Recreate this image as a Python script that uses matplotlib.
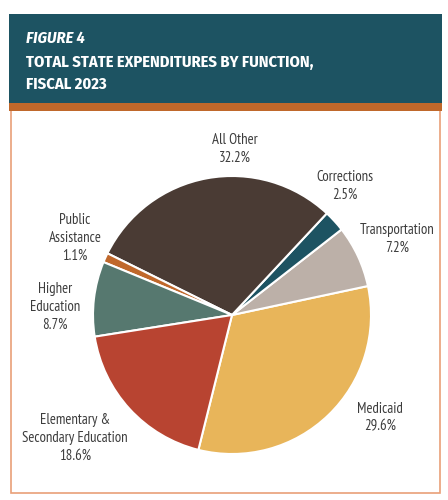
import matplotlib
matplotlib.use('Agg')
import matplotlib.pyplot as plt
from matplotlib.patches import Rectangle
from matplotlib import font_manager

# data, counterclockwise from the bottom of the Medicaid slice
labels = ['Medicaid', 'Transportation', 'Corrections', 'All Other',
          'Public\nAssistance', 'Higher\nEducation', 'Elementary &\nSecondary Education']
label_pcts = ['29.6%', '7.2%', '2.5%', '32.2%', '1.1%', '8.7%', '18.6%']
# slice sizes as drawn in the figure (the two big slices look swapped vs. their labels)
sizes = [32.2, 7.2, 2.5, 29.6, 1.1, 8.7, 18.6]
colors = ['#e8b55a', '#bcb0a8', '#1d5362', '#4a3b34', '#c0682b', '#56786f', '#b84431']

# pick a condensed face if one is around
names = {f.name for f in font_manager.fontManager.ttflist}


def first_font(cands):
    for c in cands:
        if c in names:
            return c
    return 'DejaVu Sans'


narrow = first_font(['PT Sans Narrow', 'Fira Sans Condensed', 'Roboto Condensed',
                     'Archivo Narrow', 'Liberation Sans Narrow', 'Roboto'])
title_font = first_font(['Fira Sans Condensed', 'PT Sans Narrow', 'Roboto Condensed', 'Roboto'])

W, H = 448, 500
fig = plt.figure(figsize=(W / 100, H / 100), dpi=100)
renderer = fig.canvas.get_renderer()


def fit(txt, width):
    # scale the font so the text is about `width` pixels wide
    w = txt.get_window_extent(renderer).width
    txt.set_fontsize(txt.get_fontsize() * width / w)


# background / header in pixel coords
bg = fig.add_axes([0, 0, 1, 1])
bg.set_xlim(0, W)
bg.set_ylim(H, 0)
bg.axis('off')
bg.add_patch(Rectangle((11, 110), 429, 383, facecolor='white', edgecolor='#e9a078', lw=1.2))
bg.add_patch(Rectangle((9, 14), 433, 89, facecolor='#1d5362', edgecolor='none'))
bg.add_patch(Rectangle((9, 103), 433, 8, facecolor='#c0682b', edgecolor='none'))
t0 = bg.text(26, 38, 'FIGURE 4', color='white', fontsize=12, fontweight='bold',
             style='italic', family=title_font, va='center', ha='left')
t1 = bg.text(26, 62, 'TOTAL STATE EXPENDITURES BY FUNCTION,', color='white', fontsize=12,
             fontweight='bold', family=title_font, va='center', ha='left')
t2 = bg.text(26, 84, 'FISCAL 2023', color='white', fontsize=12, fontweight='bold',
             family=title_font, va='center', ha='left')
fit(t1, 287)
t0.set_fontsize(t1.get_fontsize())
t2.set_fontsize(t1.get_fontsize())

# pie
cx, cy, r = 232, 315, 139
ax = fig.add_axes([(cx - r) / W, (H - cy - r) / H, 2 * r / W, 2 * r / H])
ax.pie(sizes, colors=colors, startangle=-104, counterclock=True, radius=1,
       wedgeprops=dict(edgecolor='white', linewidth=1.5))
ax.set_xlim(-1, 1)
ax.set_ylim(-1, 1)

# labels (pixel positions of the text centres)
probe = bg.text(0, 0, 'Secondary Education', fontsize=10, family=narrow)
fit(probe, 106)
fs = probe.get_fontsize()
probe.remove()

label_pos = [(380, 418), (397, 239), (345, 186), (235, 149),
             (75, 238), (55, 307), (75, 438)]
for lab, pct, (x, y) in zip(labels, label_pcts, label_pos):
    bg.text(x, y, lab + '\n' + pct, ha='center', va='center', fontsize=fs,
            color='#3d3d3d', family=narrow, linespacing=1.32)

fig.savefig('out.png', dpi=100)
